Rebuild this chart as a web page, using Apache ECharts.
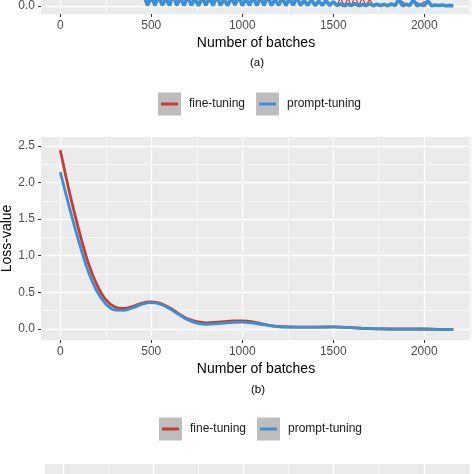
<!DOCTYPE html>
<html>
<head>
<meta charset="utf-8">
<script src="https://cdn.jsdelivr.net/npm/echarts@6/dist/echarts.min.js"></script>
<style>
	html, body { margin: 0; padding: 0; background: #fff; }
	#chart { width: 474px; height: 474px; }
</style>
</head>
<body>
<div id="chart"></div>
<script>
// smoothed loss curves, panel (b)
const fitBatches = [0, 50, 100, 150, 200, 250, 300, 350, 400, 450, 500, 550, 600, 650, 700, 750, 800, 850, 900, 950, 1000, 1050, 1100, 1150, 1200, 1250, 1300, 1400, 1500, 1600, 1700, 1800, 1900, 2000, 2100, 2160];
const fineFit = [2.44, 1.87, 1.37, 0.93, 0.61, 0.40, 0.30, 0.28, 0.31, 0.355, 0.37, 0.35, 0.29, 0.21, 0.14, 0.10, 0.085, 0.09, 0.10, 0.11, 0.11, 0.10, 0.075, 0.05, 0.035, 0.03, 0.025, 0.025, 0.03, 0.02, 0.005, 0.0, 0.0, 0.0, -0.005, -0.005];
const promptFit = [2.14, 1.66, 1.21, 0.81, 0.52, 0.34, 0.26, 0.255, 0.29, 0.34, 0.36, 0.34, 0.28, 0.20, 0.125, 0.08, 0.065, 0.07, 0.08, 0.09, 0.095, 0.085, 0.065, 0.045, 0.03, 0.025, 0.025, 0.025, 0.028, 0.02, 0.005, 0.0, -0.002, -0.003, -0.005, -0.005];

// raw per-batch loss, panel (a) (only its bottom strip is visible)
const rawBatches = [0, 100, 200, 300, 400, 460,
	480, 500, 520, 540, 560, 580, 600, 620, 640,
	660, 680, 700, 720, 740, 760, 780, 800, 820, 840, 860, 880, 900, 920, 940, 960, 980, 1000,
	1020, 1040, 1060, 1080, 1100, 1120, 1140, 1160, 1180, 1200, 1220, 1240, 1260, 1280, 1300,
	1320, 1340, 1360, 1380, 1400, 1420, 1440, 1460, 1480, 1500,
	1520, 1540, 1560, 1580, 1600, 1620, 1640, 1660, 1680, 1700, 1720, 1740, 1760, 1780, 1800,
	1820, 1840, 1860, 1880, 1900, 1920, 1940, 1960, 1980, 2000, 2020, 2040, 2060, 2080, 2100,
	2120, 2140, 2160];
const promptRaw = [2.3, 1.5, 1.0, 0.8, 0.7, 0.6,
	0.03, 0.55, 0.04, 0.6, 0.05, 0.45, 0.03, 0.7, 0.04,
	0.5, 0.02, 0.6, 0.03, 0.45, 0.01, 0.55, 0.04, 0.5, 0.02, 0.65, 0.03, 0.4, 0.02, 0.5, 0.05, 0.6, 0.02,
	0.45, 0.03, 0.55, 0.02, 0.5, 0.04, 0.6, 0.02, 0.4, 0.03, 0.5, 0.02, 0.45, 0.03, 0.55,
	0.02, 0.35, 0.03, 0.4, 0.02, 0.3, 0.03, 0.35, 0.02, 0.25,
	0.02, 0.12, 0.01, 0.1, 0.02, 0.15, 0.01, 0.08, 0.02, 0.12, 0.01, 0.1, 0.02, 0.08, 0.01,
	0.12, 0.02, 0.4, 0.01, 0.1, 0.02, 0.35, 0.01, 0.08, 0.02, 0.3, 0.01, 0.06, 0.02, 0.05,
	0.01, 0.03, 0.01];
const fineRaw = [2.5, 1.6, 1.1, 0.85, 0.75, 0.65,
	0.45, 0.55, 0.04, 0.6, 0.05, 0.45, 0.03, 0.7, 0.04,
	0.5, 0.02, 0.6, 0.03, 0.45, 0.01, 0.55, 0.04, 0.5, 0.02, 0.65, 0.03, 0.4, 0.02, 0.5, 0.05, 0.6, 0.02,
	0.45, 0.03, 0.55, 0.02, 0.5, 0.04, 0.6, 0.02, 0.4, 0.03, 0.5, 0.02, 0.45, 0.03, 0.55,
	0.02, 0.35, 0.03, 0.6, 0.02, 0.3, 0.03, 0.35, 0.02, 0.25,
	0.02, 0.5, 0.01, 0.45, 0.02, 0.6, 0.01, 0.5, 0.02, 0.4, 0.01, 0.1, 0.02, 0.08, 0.01,
	0.12, 0.02, 0.4, 0.25, 0.1, 0.02, 0.35, 0.2, 0.08, 0.25, 0.3, 0.01, 0.06, 0.02, 0.05,
	0.01, 0.03, 0.01];

const xMajor = [0, 500, 1000, 1500, 2000];
const xMinor = [250, 750, 1250, 1750, 2250];
const yMajorB = [0, 0.5, 1, 1.5, 2, 2.5];
const yMinorB = [0.25, 0.75, 1.25, 1.75, 2.25];
const yMajorA = [0, 2.5, 5, 7.5, 10];
const yMinorA = [1.25, 3.75, 6.25, 8.75];
const seriesNames = ["fine-tuning", "prompt-tuning"];

const RED = "#cb3a2e";
const BLUE = "#3a8fd6";
const PANEL = "#ebebeb";
const FONT = "Liberation Sans, Arial, sans-serif";

function pairs(xs, ys) {
	return xs.map(function (x, i) {
		return [x, ys[i]];
	});
}

function majorX(gridIndex, min, max, withName) {
	return {
		type: "value",
		gridIndex: gridIndex,
		min: min,
		max: max,
		position: "bottom",
		axisLine: { show: false, onZero: false },
		axisTick: { show: withName, inside: false, length: 3, customValues: xMajor, lineStyle: { color: "#333", width: 1 } },
		axisLabel: {
			show: withName,
			customValues: xMajor,
			margin: 6,
			color: "#4d4d4d",
			fontSize: 12,
			fontFamily: FONT,
			formatter: function (v) {
				return String(v);
			},
		},
		splitLine: { show: true, lineStyle: { color: "#fff", width: 1.3 } },
		name: withName ? "Number of batches" : "",
		nameLocation: "middle",
		nameGap: 22,
		nameMoveOverlap: false,
		nameTextStyle: { color: "#000", fontSize: 14, fontFamily: FONT, verticalAlign: "top" },
	};
}

function minorX(gridIndex, min, max) {
	return {
		type: "value",
		gridIndex: gridIndex,
		min: min,
		max: max,
		position: "bottom",
		axisLine: { show: false, onZero: false },
		axisTick: { show: false, customValues: xMinor },
		axisLabel: { show: false, customValues: xMinor },
		splitLine: { show: true, lineStyle: { color: "#fff", width: 0.6 } },
	};
}

function majorY(gridIndex, min, max, ticks, name) {
	return {
		type: "value",
		gridIndex: gridIndex,
		min: min,
		max: max,
		position: "left",
		axisLine: { show: false, onZero: false },
		axisTick: { show: true, inside: false, length: 3, customValues: ticks, lineStyle: { color: "#333", width: 1 } },
		axisLabel: {
			customValues: ticks,
			margin: 6,
			color: "#4d4d4d",
			fontSize: 12,
			fontFamily: FONT,
			formatter: function (v) {
				return v.toFixed(1);
			},
		},
		splitLine: { show: true, lineStyle: { color: "#fff", width: 1.3 } },
		name: name,
		nameLocation: "middle",
		nameGap: 27,
		nameRotate: 90,
		nameMoveOverlap: false,
		nameTextStyle: { color: "#000", fontSize: 14, fontFamily: FONT },
	};
}

function minorY(gridIndex, min, max, ticks) {
	return {
		type: "value",
		gridIndex: gridIndex,
		min: min,
		max: max,
		position: "left",
		axisLine: { show: false, onZero: false },
		axisTick: { show: false, customValues: ticks },
		axisLabel: { show: false, customValues: ticks },
		splitLine: { show: true, lineStyle: { color: "#fff", width: 0.6 } },
	};
}

function legendKeys(cy, x0) {
	const items = [];
	const offsets = [0, 98];
	const colors = [RED, BLUE];
	offsets.forEach(function (dx, i) {
		const bx = x0 + dx;
		items.push({
			type: "rect",
			shape: { x: bx, y: cy - 11.5, width: 23, height: 23 },
			style: { fill: "#bdbdbd" },
		});
		items.push({
			type: "line",
			shape: { x1: bx + 3, y1: cy, x2: bx + 20, y2: cy },
			style: { stroke: colors[i], lineWidth: 3 },
		});
		items.push({
			type: "text",
			x: bx + 31,
			y: cy,
			style: { text: seriesNames[i], fill: "#1a1a1a", fontSize: 12, fontFamily: FONT, verticalAlign: "middle" },
		});
	});
	return items;
}

const option = {
	animation: false,
	backgroundColor: "#fff",
	grid: [
		{ left: 41, top: -189, width: 430, height: 203, show: true, backgroundColor: PANEL, borderWidth: 0, containLabel: false, outerBoundsMode: "none" },
		{ left: 41, top: 137, width: 430, height: 203, show: true, backgroundColor: PANEL, borderWidth: 0, containLabel: false, outerBoundsMode: "none" },
		{ left: 45, top: 464, width: 425, height: 200, show: true, backgroundColor: PANEL, borderWidth: 0, containLabel: false, outerBoundsMode: "none" },
	],
	xAxis: [
		majorX(0, -106, 2257, true),
		minorX(0, -106, 2257),
		majorX(1, -106, 2257, true),
		minorX(1, -106, 2257),
		majorX(2, -100, 2256, false),
		minorX(2, -100, 2256),
	],
	yAxis: [
		majorY(0, -0.5, 12, yMajorA, ""),
		minorY(0, -0.5, 12, yMinorA),
		majorY(1, -0.15, 2.62, yMajorB, "Loss-value"),
		minorY(1, -0.15, 2.62, yMinorB),
		{ type: "value", gridIndex: 2, min: 0, max: 1, axisLine: { show: false, onZero: false }, axisTick: { show: false }, axisLabel: { show: false }, splitLine: { show: false } },
		{ type: "value", gridIndex: 2, min: 0, max: 1, axisLine: { show: false, onZero: false }, axisTick: { show: false }, axisLabel: { show: false }, splitLine: { show: false } },
	],
	series: [
		{
			name: seriesNames[0],
			type: "line",
			xAxisIndex: 0,
			yAxisIndex: 0,
			data: pairs(rawBatches, fineRaw),
			showSymbol: false,
			lineStyle: { color: RED, width: 1.2 },
			itemStyle: { color: RED },
		},
		{
			name: seriesNames[1],
			type: "line",
			xAxisIndex: 0,
			yAxisIndex: 0,
			data: pairs(rawBatches, promptRaw),
			showSymbol: false,
			lineStyle: { color: BLUE, width: 3.6 },
			itemStyle: { color: BLUE },
		},
		{
			name: seriesNames[0],
			type: "line",
			xAxisIndex: 2,
			yAxisIndex: 2,
			data: pairs(fitBatches, fineFit),
			smooth: 0.3,
			showSymbol: false,
			lineStyle: { color: RED, width: 2.8 },
			itemStyle: { color: RED },
		},
		{
			name: seriesNames[1],
			type: "line",
			xAxisIndex: 2,
			yAxisIndex: 2,
			data: pairs(fitBatches, promptFit),
			smooth: 0.3,
			showSymbol: false,
			lineStyle: { color: BLUE, width: 2.8 },
			itemStyle: { color: BLUE },
		},
	],
	graphic: [
		{ type: "text", x: 257, y: 63, style: { text: "(a)", fill: "#000", fontSize: 11.5, fontFamily: FONT, align: "center", verticalAlign: "middle" } },
		{ type: "text", x: 258, y: 390, style: { text: "(b)", fill: "#000", fontSize: 11.5, fontFamily: FONT, align: "center", verticalAlign: "middle" } },
	]
		.concat(legendKeys(104, 158))
		.concat(legendKeys(429, 159)),
};

const chartDom = document.getElementById("chart");
const chart = echarts.init(chartDom, null, { renderer: "canvas" });
chart.setOption(option);
</script>
</body>
</html>
